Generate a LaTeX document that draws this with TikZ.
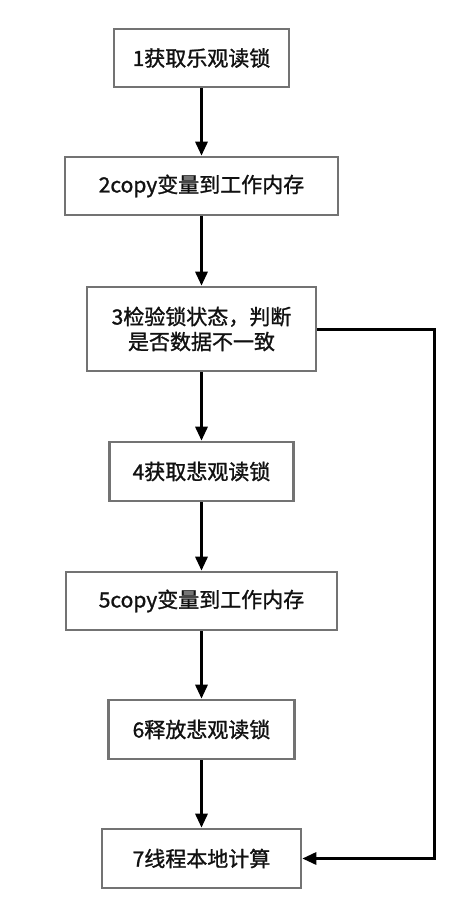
\documentclass[tikz,border=0pt]{standalone}
\usepackage{fontspec}
\setmainfont{Noto Sans CJK SC}[FakeBold=1.2]
\usetikzlibrary{arrows.meta}
\definecolor{boxgray}{HTML}{737373}
\definecolor{txt}{HTML}{111111}
\begin{document}
\begin{tikzpicture}[x=1pt,y=-1pt,
  stepbox/.style={draw=boxgray,line width=2.6pt,rectangle,minimum height=58pt,
    inner sep=0pt,font=\fontsize{21}{25}\selectfont,text=txt,align=center},
  flow/.style={draw=black,line width=3pt,-{Triangle[width=12pt,length=14pt]}}]
\useasboundingbox (0,0) rectangle (474,914);
\node[stepbox,minimum width=175pt] (b1) at (201.5,58) {1获取乐观读锁};
\node[stepbox,minimum width=273pt] (b2) at (201.5,186) {2copy变量到工作内存};
\node[stepbox,minimum width=229pt,minimum height=84pt] (b3) at (201.5,329) {3检验锁状态，判断\\是否数据不一致};
\node[stepbox,minimum width=184pt,minimum height=59pt] (b4) at (201.5,471.5) {4获取悲观读锁};
\node[stepbox,minimum width=271pt] (b5) at (201.5,601) {5copy变量到工作内存};
\node[stepbox,minimum width=186pt,minimum height=59pt] (b6) at (201.5,729.5) {6释放悲观读锁};
\node[stepbox,minimum width=199pt,minimum height=59pt] (b7) at (201.5,858.5) {7线程本地计算};
\coordinate (c) at (434,329);
\draw[flow] (b1) -- (b2);
\draw[flow] (b2) -- (b3);
\draw[flow] (b3) -- (b4);
\draw[flow] (b4) -- (b5);
\draw[flow] (b5) -- (b6);
\draw[flow] (b6) -- (b7);
\draw[flow] (b3.east) -- (c) |- (b7.east);
\end{tikzpicture}
\end{document}
